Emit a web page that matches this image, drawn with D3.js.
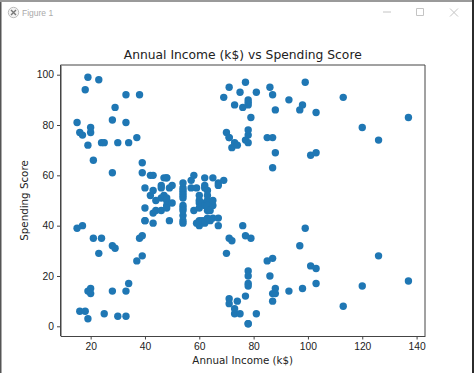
<!DOCTYPE html>
<html>
<head>
<meta charset="utf-8">
<script src="https://cdn.jsdelivr.net/npm/d3@7"></script>
<style>
body { margin: 0; background: #fff; }
svg { display: block; font-family: "DejaVu Sans", sans-serif; }
.tick text { font-size: 10.3px; fill: #222; }
.tick line, .domain { stroke: #444; stroke-width: 1; }
</style>
</head>
<body>
<div class="container"></div>
<script>
const WIDTH = 474;
const HEIGHT = 373;
const LEFT = 60.5;
const RIGHT = 425;
const TOP = 65;
const BOTTOM = 336;

const xTicks = [20, 40, 60, 80, 100, 120, 140];
const yTicks = [0, 20, 40, 60, 80, 100];

const income = [15,15,16,16,17,17,18,18,19,19,19,19,20,20,20,20,21,21,23,23,24,24,25,25,28,28,28,28,29,29,30,30,33,33,33,33,34,34,37,37,38,38,39,39,39,39,40,40,40,40,42,42,43,43,43,43,44,44,46,46,46,46,47,47,48,48,48,48,48,48,49,49,50,50,54,54,54,54,54,54,54,54,54,54,54,54,57,57,58,58,59,59,60,60,60,60,60,60,61,61,62,62,62,62,62,62,63,63,63,63,63,63,64,64,65,65,65,65,67,67,67,67,69,69,70,70,71,71,71,71,71,71,72,72,73,73,73,73,74,74,75,75,76,76,77,77,77,77,78,78,78,78,78,78,78,78,78,78,78,78,79,79,81,81,85,85,86,86,87,87,87,87,87,87,88,88,88,88,93,93,97,97,98,98,99,99,101,101,103,103,103,103,113,113,120,120,126,126,137,137];
const score = [39,81,6,77,40,76,6,94,3,72,14,99,15,77,13,79,35,66,29,98,35,73,5,73,14,82,32,61,31,87,4,73,4,92,14,81,17,73,26,75,35,92,36,61,28,65,55,47,42,42,52,60,54,60,45,41,50,46,51,46,56,55,52,59,51,59,50,48,59,47,55,42,49,56,47,54,53,48,52,42,51,55,41,44,57,46,58,55,60,46,55,41,49,40,42,52,47,50,42,49,41,48,59,55,56,42,50,46,43,48,52,54,42,46,48,50,43,59,43,57,56,40,58,91,29,77,35,95,11,75,9,75,34,71,5,88,7,73,10,72,5,93,40,87,12,97,36,74,22,90,17,88,20,76,16,89,1,78,1,73,35,83,5,93,26,75,20,95,27,63,13,75,10,92,13,86,15,69,14,90,32,86,15,88,39,97,24,68,17,85,23,69,8,91,16,79,28,74,18,83];

var data = income.map(function(d, i){ return [d, score[i]]; });

var xScale = d3.scaleLinear()
	.domain([8.9, 143.1])
	.range([LEFT, RIGHT]);

var yScale = d3.scaleLinear()
	.domain([-3.85, 103.85])
	.range([BOTTOM, TOP]);

var svg = d3.select(".container").append("svg")
	.attr("width", WIDTH)
	.attr("height", HEIGHT);

//  window chrome
svg.append("rect").attr("width", WIDTH).attr("height", 2).attr("fill", "#9a9a9a");
svg.append("rect").attr("x", 472).attr("width", 2).attr("height", HEIGHT).attr("fill", "#2b2b2b");
svg.append("rect").attr("y", 2).attr("width", 1.5).attr("height", HEIGHT).attr("fill", "#555");

var icon = svg.append("g").attr("transform", "translate(13.5, 12.5)");
icon.append("circle").attr("r", 5.2).attr("fill", "#f2f2f2").attr("stroke", "#bbb");
icon.append("path").attr("d", "M-2.5,-2.5L2.5,2.5M-2.5,2.5L2.5,-2.5").attr("stroke", "#777").attr("stroke-width", 1.4);

svg.append("text")
	.attr("x", 22).attr("y", 16)
	.attr("font-family", "Liberation Sans, sans-serif")
	.attr("font-size", 8.5)
	.attr("fill", "#aaa")
	.text("Figure 1");

svg.append("path")
	.attr("d", "M383,12H391M416.5,8.5H423.5V15.5H416.5ZM450,8.5L458,16.5M458,8.5L450,16.5")
	.attr("fill", "none")
	.attr("stroke", "#c4c4c4");

//  axes
svg.append("g")
	.attr("transform", "translate(0, " + BOTTOM + ")")
	.call(d3.axisBottom(xScale).tickValues(xTicks).tickSizeInner(3.5).tickSizeOuter(0).tickPadding(3));

svg.append("g")
	.attr("transform", "translate(" + LEFT + ", 0)")
	.call(d3.axisLeft(yScale).tickValues(yTicks).tickSizeInner(3.5).tickSizeOuter(0).tickPadding(3));

svg.append("path")
	.attr("d", "M" + LEFT + "," + BOTTOM + "V" + TOP + "H" + RIGHT + "V" + BOTTOM)
	.attr("fill", "none")
	.attr("stroke", "#444");

svg.append("g").selectAll("circle").data(data)
	.enter()
	.append("circle")
	.attr("r", 3.7)
	.attr("cx", function(d){ return xScale(d[0]); })
	.attr("cy", function(d){ return yScale(d[1]); })
	.attr("fill", "#1f77b4");

//  labels
svg.append("text")
	.attr("x", (LEFT + RIGHT) / 2).attr("y", 59)
	.attr("text-anchor", "middle")
	.attr("font-size", 12.3)
	.attr("fill", "#222")
	.text("Annual Income (k$) vs Spending Score");

svg.append("text")
	.attr("x", (LEFT + RIGHT) / 2).attr("y", 364)
	.attr("text-anchor", "middle")
	.attr("font-size", 10.3)
	.attr("fill", "#222")
	.text("Annual Income (k$)");

svg.append("text")
	.attr("transform", "translate(28, " + (TOP + BOTTOM) / 2 + ") rotate(-90)")
	.attr("text-anchor", "middle")
	.attr("font-size", 10.3)
	.attr("fill", "#222")
	.text("Spending Score");
</script>
</body>
</html>
